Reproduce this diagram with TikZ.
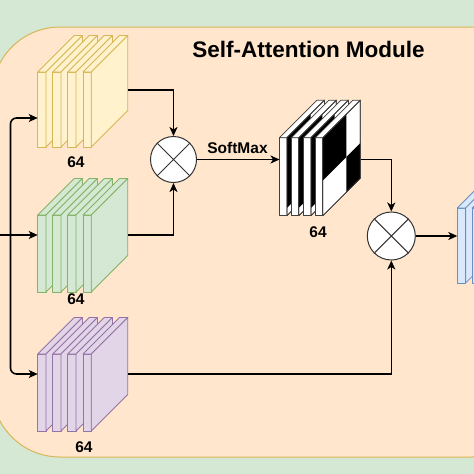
\documentclass[tikz,border=0pt]{standalone}
\usepackage{fontspec}
\setmainfont{Liberation Sans}
\usetikzlibrary{arrows.meta}
\definecolor{bggreen}{HTML}{D5E8D4}
\definecolor{panel}{HTML}{FFE6CC}
\definecolor{panelline}{HTML}{D6B656}
\definecolor{yfill}{HTML}{FFF2CC}
\definecolor{yline}{HTML}{D6B656}
\definecolor{gfill}{HTML}{D5E8D4}
\definecolor{gline}{HTML}{82B366}
\definecolor{pfill}{HTML}{E1D5E7}
\definecolor{pline}{HTML}{9673A6}
\definecolor{bfill}{HTML}{DAE8FC}
\definecolor{bline}{HTML}{6C8EBF}
\definecolor{chkline}{HTML}{404040}
\newcommand\slabbox[7]{%
  \filldraw[fill=#6,draw=#7,line width=0.8pt,line join=round] (#1,#2) rectangle ++(#3,#4);
  \filldraw[fill=#6,draw=#7,line width=0.8pt,line join=round] (#1,#2) -- ++(#5,-#5) -- ++(#3,0) -- ++(-#5,#5) -- cycle;
  \filldraw[fill=#6,draw=#7,line width=0.8pt,line join=round] (#1+#3,#2) -- ++(#5,-#5) -- ++(0,#4) -- ++(-#5,#5) -- cycle;
}
\newcommand\chkslab[3]{%
  \pgfmathsetmacro\chkW{7.5}%
  \pgfmathsetmacro\chkH{78}%
  \pgfmathsetmacro\chkD{37.5}%
  \pgfmathsetmacro\chkA{0.63*\chkD}%
  \pgfmathsetmacro\chkB{#3*\chkH}%
  \pgfmathsetmacro\chkR{\chkD-\chkA}%
  \pgfmathsetmacro\chkL{\chkH-\chkB}%
  \filldraw[chk] (#1,#2) rectangle ++(\chkW,\chkH);
  \filldraw[chk] (#1,#2) -- ++(\chkD,-\chkD) -- ++(\chkW,0) -- ++(-\chkD,\chkD) -- cycle;
  \filldraw[chk] (#1+\chkW,#2) -- ++(\chkD,-\chkD) -- ++(0,\chkH) -- ++(-\chkD,\chkD) -- cycle;
  \fill[black] (#1+\chkW,#2) -- ++(\chkA,-\chkA) -- ++(0,\chkB) -- ++(-\chkA,\chkA) -- cycle;
  \fill[black] (#1+\chkW+\chkA,#2-\chkA+\chkB) -- ++(\chkR,-\chkR) -- ++(0,\chkL) -- ++(-\chkR,\chkR) -- cycle;
  \draw[chkedge] (#1+\chkW,#2) -- ++(\chkD,-\chkD) -- ++(0,\chkH) -- ++(-\chkD,\chkD) -- cycle;
}
\begin{document}
\begin{tikzpicture}[x=1pt,y=-1pt,
  chk/.style={fill=white,draw=chkline,line width=0.7pt,line join=round},
  chkedge/.style={draw=chkline,line width=0.7pt,line join=round},
  arr/.style={-{Stealth[length=9pt,width=8pt,inset=2.5pt]},line width=1.6pt},
  plain/.style={line width=1.6pt},
  mul/.style={circle,draw=black!80,fill=white,line width=1pt,inner sep=0pt},
  lbl/.style={font=\fontsize{15.5}{18}\selectfont\bfseries,anchor=base,inner sep=0pt},
  titlestyle/.style={font=\fontsize{22.5}{26}\selectfont\bfseries,anchor=base,inner sep=0pt}]
\useasboundingbox (0,0) rectangle (474,474);
\clip (0,0) rectangle (474,474);
\fill[bggreen] (0,0) rectangle (474,474);
\filldraw[fill=panel,draw=panelline,line width=1pt,rounded corners=68pt] (-8,27) rectangle (540,457);
\node[titlestyle] (title) at (308.5,57) {Self-Attention Module};
% stacks
\foreach \xx in {37.7,52.7,67.7,83} {\slabbox{\xx}{72}{8.3}{75}{36.5}{yfill}{yline}}
\foreach \xx in {37.7,52.7,67.7,83} {\slabbox{\xx}{215}{8.3}{77}{36.5}{gfill}{gline}}
\foreach \xx in {37.7,52.7,67.7,83} {\slabbox{\xx}{354}{8.3}{77}{36.5}{pfill}{pline}}
\foreach \xx in {457.3,472.3} {\slabbox{\xx}{208}{8.3}{75}{36.5}{bfill}{bline}}
\foreach \xx in {279.5,291.3,303.5} {\chkslab{\xx}{137.7}{0.9}}
\chkslab{315.3}{137.7}{0.55}
% labels
\node[lbl] (l1) at (76,167.7) {64};
\node[lbl] (l2) at (76,304) {64};
\node[lbl] (l3) at (84,452) {64};
\node[lbl] (l4) at (318,237.5) {64};
\node[lbl] (sm) at (237.5,153) {SoftMax};
% coordinates
\coordinate (in) at (0,235);
\coordinate (split) at (10.5,235);
\coordinate (yin) at (37.7,118);
\coordinate (gin) at (37.7,235);
\coordinate (pin) at (37.7,374);
\coordinate (yout) at (127.8,90);
\coordinate (gout) at (127.8,235);
\coordinate (pout) at (127.8,374);
\coordinate (cin) at (279.5,159.5);
\coordinate (cout) at (361,159.5);
\coordinate (bin) at (457.3,236);
% multipliers
\node[mul,minimum size=46pt] (m1) at (173.5,159.5) {};
\node[mul,minimum size=48pt] (m2) at (391.3,236) {};
\draw[black!80,line width=1pt] (m1.north east) -- (m1.south west) (m1.north west) -- (m1.south east);
\draw[black!80,line width=1pt] (m2.north east) -- (m2.south west) (m2.north west) -- (m2.south east);
% connectors
\draw[plain] (in) -- (split);
\draw[arr,rounded corners=6pt] (split) |- (yin);
\draw[arr,rounded corners=6pt] (split) |- (pin);
\draw[arr] (split) -- (gin);
\draw[arr] (yout) -| (m1);
\draw[arr] (gout) -| (m1);
\draw[arr] (m1) -- (cin);
\draw[arr] (cout) -| (m2);
\draw[arr] (pout) -| (m2);
\draw[arr] (m2) -- (bin);
\end{tikzpicture}
\end{document}
